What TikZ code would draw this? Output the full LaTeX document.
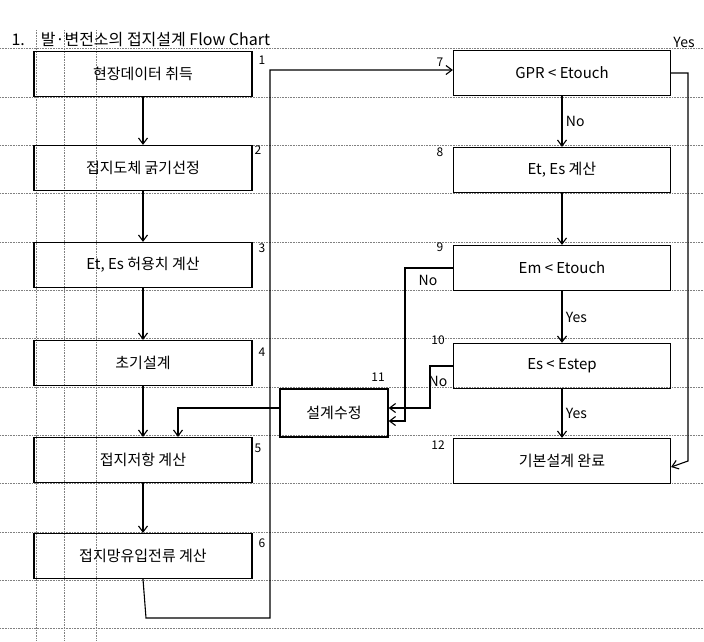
\documentclass[tikz,border=0pt]{standalone}
\usepackage{fontspec}
\setmainfont{Noto Sans CJK KR}
\usetikzlibrary{arrows.meta}
\begin{document}
\begin{tikzpicture}[x=1pt,y=-1pt,
  box/.style={draw,line width=1.3pt,minimum height=45pt,inner sep=0pt,font=\fontsize{15}{17}\selectfont},
  lbox/.style={box,minimum width=218pt},
  rbox/.style={box,minimum width=217pt},
  arr/.style={line width=1.1pt,-{Straight Barb[length=6pt,width=9pt]}},
  num/.style={font=\itshape\fontsize{12}{14}\selectfont},
  lab/.style={font=\fontsize{14}{16}\selectfont}]
\useasboundingbox (0,0) rectangle (704,641);
\fill[white] (0,0) rectangle (704,641);
\foreach \y in {48,97,145,193,242,290,338,387,435,483,532,580,628}
  \draw[densely dotted,gray,line width=0.6pt] (0,\y) -- (704,\y);
\foreach \x in {36,64,96}
  \draw[densely dotted,gray,line width=0.6pt] (\x,30) -- (\x,641);
\node[anchor=west,font=\fontsize{16}{18}\selectfont] (title) at (8,40) {1.\quad 발·변전소의 접지설계 Flow Chart};
\node[lbox] (b1) at (143,74) {현장데이터 취득};
\node[lbox] (b2) at (143,168) {접지도체 굵기선정};
\node[lbox] (b3) at (143,265) {Et, Es 허용치 계산};
\node[lbox] (b4) at (143,363) {초기설계};
\node[lbox] (b5) at (143,460) {접지저항 계산};
\node[lbox] (b6) at (143,556) {접지망유입전류 계산};
\node[rbox] (b7) at (562,73) {GPR < Etouch};
\node[rbox] (b8) at (562,170) {Et, Es 계산};
\node[rbox] (b9) at (562,268) {Em < Etouch};
\node[rbox] (b10) at (562,366) {Es < Estep};
\node[box,minimum width=108pt,minimum height=48pt] (b11) at (334,413) {설계수정};
\node[rbox] (b12) at (562,461) {기본설계 완료};
\foreach \n/\x/\y in {1/262/60,2/258/150,3/262/248,4/262/352,5/258/448,6/262/543,7/440/62,8/440/152,9/440/247,10/438/340,11/378/377,12/438/445}
  \node[num] (n\n) at (\x,\y) {\n};
\draw[arr] (b1) -- (b2);
\draw[arr] (b2) -- (b3);
\draw[arr] (b3) -- (b4);
\draw[arr] (b4) -- (b5);
\draw[arr] (b5) -- (b6);
\coordinate (c1) at (146,618);
\coordinate (c2) at (270,618);
\coordinate (c3) at (270,70);
\draw[arr] (b6.south) -- (c1) -- (c2) -- (c3) -- (c3 -| b7.west);
\draw[arr] (b7) -- node[right,lab] (no1) {No} (b8);
\draw[arr] (b8) -- (b9);
\draw[arr] (b9) -- node[right,lab] (yes1) {Yes} (b10);
\draw[arr] (b10) -- node[right,lab] (yes2) {Yes} (b12);
\coordinate (r1) at (688,73);
\draw[arr] (b7.east) -- (r1) -- (r1 |- b12.center) -- ([yshift=-6pt]b12.east);
\node[lab] (yes0) at (684,42) {Yes};
\coordinate (l1) at (405,268);
\draw[arr] (b9.west) -- (l1) -- ([yshift=-8pt]b11.east -| l1) -- ([yshift=-8pt]b11.east);
\node[lab] (no2) at (428,280) {No};
\coordinate (l2) at (430,366);
\draw[arr] (b10.west) -- (l2) -- ([yshift=5pt]b11.east -| l2) -- ([yshift=5pt]b11.east);
\node[lab] (no3) at (438,381) {No};
\coordinate (l3) at (178,408);
\draw[arr] (b11.west |- l3) -- (l3) -- (l3 |- b5.north);
\end{tikzpicture}
\end{document}
